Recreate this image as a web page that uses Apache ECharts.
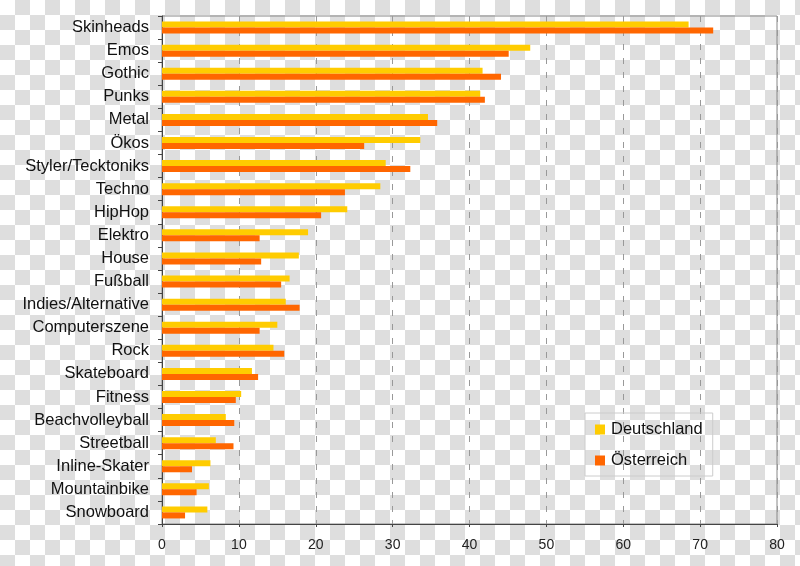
<!DOCTYPE html>
<html>
<head>
<meta charset="utf-8">
<script src="https://cdn.jsdelivr.net/npm/echarts@6/dist/echarts.min.js"></script>
<style>
  html, body { margin: 0; padding: 0; }
  body {
    background: repeating-conic-gradient(#dedede 0 25%, #ffffff 0 50%) 0 0 / 30px 30px;
  }
  #chart { width: 800px; height: 566px; }
</style>
</head>
<body>
<div id="chart"></div>
<script>
const categories = [
  "Skinheads", "Emos", "Gothic", "Punks", "Metal", "Ökos", "Styler/Tecktoniks",
  "Techno", "HipHop", "Elektro", "House", "Fußball", "Indies/Alternative",
  "Computerszene", "Rock", "Skateboard", "Fitness", "Beachvolleyball",
  "Streetball", "Inline-Skater", "Mountainbike", "Snowboard"
];
const deutschland = [68.5, 47.9, 41.7, 41.4, 34.6, 33.6, 29.1, 28.4, 24.1, 19.0, 17.8,
  16.6, 16.1, 15.0, 14.5, 11.7, 10.3, 8.3, 7.0, 6.3, 6.1, 5.9];
const oesterreich = [71.7, 45.1, 44.1, 42.0, 35.8, 26.3, 32.3, 23.8, 20.7, 12.7, 12.9,
  15.5, 17.9, 12.7, 15.9, 12.5, 9.6, 9.4, 9.3, 3.9, 4.5, 3.0];
const xTicks = [0, 10, 20, 30, 40, 50, 60, 70, 80];

const chart = echarts.init(document.getElementById("chart"));
chart.setOption({
  animation: false,
  backgroundColor: "transparent",
  textStyle: { fontFamily: "Liberation Sans, Arial, sans-serif" },
  grid: {
    left: 162, right: 23, top: 16, bottom: 42,
    show: true, borderColor: "#888", borderWidth: 1
  },
  legend: {
    orient: "vertical",
    left: 585, top: 413,
    padding: [8, 10, 7, 10],
    itemGap: 14,
    itemWidth: 10, itemHeight: 10,
    icon: "rect",
    borderColor: "#ccc", borderWidth: 1,
    textStyle: { fontSize: 16.5, color: "#111", padding: [0, 0, 0, 1] },
    data: ["Deutschland", "Österreich"]
  },
  xAxis: {
    type: "value",
    min: xTicks[0], max: xTicks[xTicks.length - 1], interval: 10,
    axisLine: { show: true, lineStyle: { color: "#444" } },
    axisTick: { show: true, length: 3, lineStyle: { color: "#444" } },
    axisLabel: { fontSize: 14, color: "#222", margin: 14 },
    splitLine: { show: true, lineStyle: { color: "#999", type: [6, 8] } }
  },
  yAxis: {
    type: "category",
    data: categories,
    inverse: true,
    axisLine: { show: true, lineStyle: { color: "#444" } },
    axisTick: { show: true, length: 4, lineStyle: { color: "#444" } },
    axisLabel: { fontSize: 16.5, color: "#111", margin: 13, padding: [4, 0, 0, 0] }
  },
  series: [
    {
      name: "Deutschland", type: "bar", data: deutschland,
      barWidth: 6, barGap: "0%",
      itemStyle: { color: "#FFCC00" }
    },
    {
      name: "Österreich", type: "bar", data: oesterreich,
      barWidth: 6, barGap: "0%",
      itemStyle: { color: "#FF6600" }
    }
  ]
});
</script>
</body>
</html>
